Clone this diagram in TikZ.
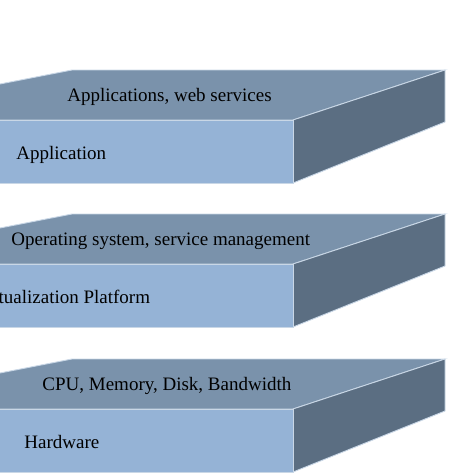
\documentclass[tikz,border=0pt]{standalone}
\usepackage{fontspec}
\setmainfont{Liberation Serif}
\usetikzlibrary{positioning}

\definecolor{topface}{HTML}{7A92AB}
\definecolor{frontface}{HTML}{95B3D6}
\definecolor{sideface}{HTML}{5B6E82}
\definecolor{slabedge}{HTML}{C9D7E6}

\begin{document}
\begin{tikzpicture}[x=1pt, y=-1pt, line width=0.9pt,
    face/.style={draw=slabedge, line join=miter},
    label/.style={anchor=base west, inner sep=0pt, font=\fontsize{19}{22}\selectfont}]

\useasboundingbox (0,0) rectangle (474,474);
\clip (0,0) rectangle (474,474);

% draw the three slabs, top to bottom
\foreach \n/\y/\tx/\toptext/\fx/\fronttext in
    {app/70/67/{Applications, web services}/16/{Application},
     virt/214/11/{Operating system, service management}/-26/{Virtualization Platform},
     hw/359/42/{CPU, Memory, Disk, Bandwidth}/24/{Hardware}}
{
    % faces
    \draw[face, fill=topface] (-185, \y+50) -- (72, \y) -- (445, \y) -- (293, \y+50) -- cycle;
    \draw[face, fill=sideface] (293, \y+50) -- (445, \y) -- (445, \y+52) -- (293, \y+113) -- cycle;
    \draw[face, fill=frontface] (-5, \y+50) rectangle (293, \y+113);

    % texts
    \node[label] (top\n) at (\tx, \y+31.5) {\toptext};
    \node[label] (front\n) at (\fx, \y+89.5) {\fronttext};
}

\end{tikzpicture}
\end{document}
